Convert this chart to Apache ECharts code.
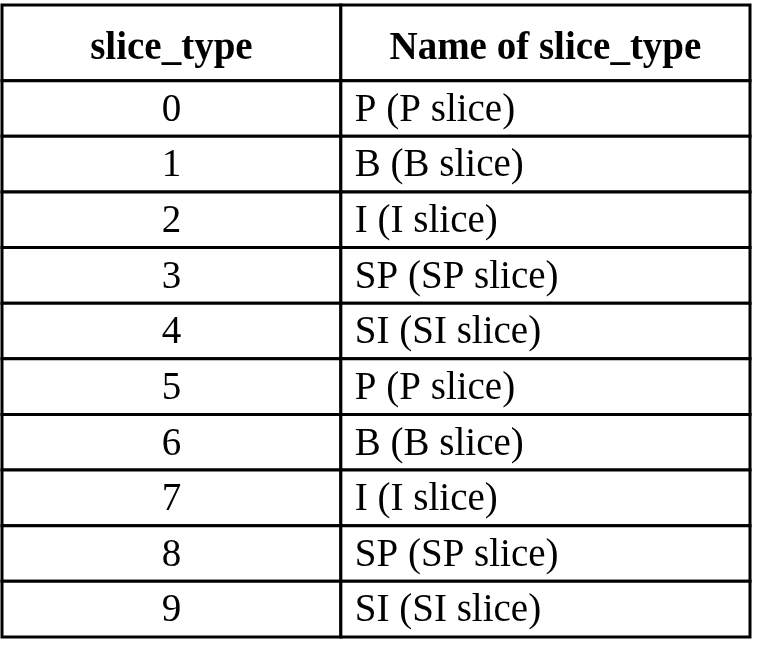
<!DOCTYPE html>
<html>
<head>
<meta charset="utf-8">
<script src="https://cdn.jsdelivr.net/npm/echarts@6/dist/echarts.min.js"></script>
<style>html,body{margin:0;padding:0;background:#fff}#main{width:757px;height:647px}</style>
</head>
<body>
<div id="main"></div>
<script>
var headers = ['slice_type', 'Name of slice_type'];
var sliceTypes = ['0', '1', '2', '3', '4', '5', '6', '7', '8', '9'];
var sliceNames = ['P (P slice)', 'B (B slice)', 'I (I slice)', 'SP (SP slice)', 'SI (SI slice)',
  'P (P slice)', 'B (B slice)', 'I (I slice)', 'SP (SP slice)', 'SI (SI slice)'];

// column edges (fraction of width) and row edges (header is taller)
var colEdges = [0, 0.453, 1];
var headerH = 1.36;
var rowEdges = [0, headerH];
sliceTypes.forEach(function (t, i) { rowEdges.push(headerH + i + 1); });

var cells = [];
headers.forEach(function (h, c) { cells.push([c, 0, h, 1]); });
sliceTypes.forEach(function (t, i) {
  cells.push([0, i + 1, t, 0]);
  cells.push([1, i + 1, sliceNames[i], 0]);
});

var chart = echarts.init(document.getElementById('main'));
chart.setOption({
  animation: false,
  grid: { left: 2, right: 7, top: 5, bottom: 10 },
  xAxis: { type: 'value', min: 0, max: 1, show: false },
  yAxis: { type: 'value', min: 0, max: rowEdges[rowEdges.length - 1], inverse: true, show: false },
  series: [{
    type: 'custom',
    data: cells,
    renderItem: function (params, api) {
      var c = api.value(0), r = api.value(1), bold = api.value(3);
      var p0 = api.coord([colEdges[c], rowEdges[r]]);
      var p1 = api.coord([colEdges[c + 1], rowEdges[r + 1]]);
      var text = cells[params.dataIndex][2];
      var center = c === 0 || r === 0;
      return {
        type: 'group',
        children: [{
          type: 'rect',
          shape: { x: p0[0], y: p0[1], width: p1[0] - p0[0], height: p1[1] - p0[1] },
          style: { fill: '#fff', stroke: '#000', lineWidth: 3 }
        }, {
          type: 'text',
          style: {
            x: center ? (p0[0] + p1[0]) / 2 : p0[0] + 14,
            y: (p0[1] + p1[1]) / 2 + (r === 0 ? 6 : 2),
            text: text,
            align: center ? 'center' : 'left',
            verticalAlign: 'middle',
            fontFamily: 'Liberation Serif',
            fontSize: 39,
            fontWeight: bold ? 'bold' : 'normal',
            fill: '#000'
          }
        }]
      };
    }
  }]
});
</script>
</body>
</html>
